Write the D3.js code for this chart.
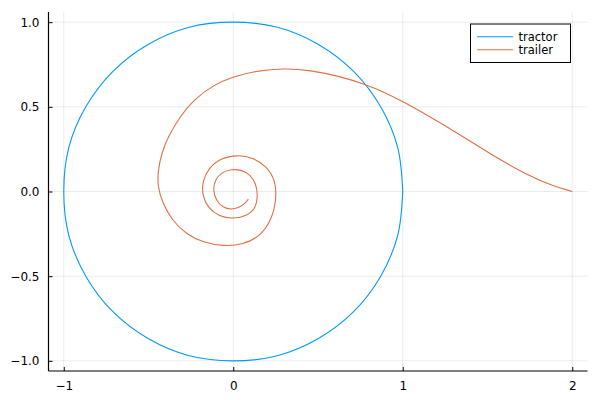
<!DOCTYPE html>
<html>
<head>
<meta charset="utf-8">
<script src="https://cdn.jsdelivr.net/npm/d3@7"></script>
<style>
  body { margin: 0; background: #fff; }
  text { font-family: "DejaVu Sans", sans-serif; fill: #000; }
</style>
</head>
<body>
<div id="chart"></div>
<script>
const width = 600
const height = 400
const margin = { top: 12, right: 12.5, bottom: 29, left: 48.5 }

// tractor path
const tractorX = [1.00, 0.97, 0.87, 0.71, 0.50, 0.26, 0.00, -0.26, -0.50, -0.71, -0.87, -0.97, -1.00,
  -0.97, -0.87, -0.71, -0.50, -0.26, 0.00, 0.26, 0.50, 0.71, 0.87, 0.97, 1.00]
const tractorY = [0.00, 0.26, 0.50, 0.71, 0.87, 0.97, 1.00, 0.97, 0.87, 0.71, 0.50, 0.26, 0.00,
  -0.26, -0.50, -0.71, -0.87, -0.97, -1.00, -0.97, -0.87, -0.71, -0.50, -0.26, 0.00]

// trailer path
const trailerX = [2.00, 1.89, 1.733, 1.575, 1.418, 1.26, 1.142, 1.004, 0.886, 0.778, 0.63, 0.453, 0.295,
  0.138, 0.0, -0.118, -0.236, -0.315, -0.384, -0.423, -0.445, -0.446, -0.417, -0.364, -0.275, -0.177, -0.059,
  0.059, 0.158, 0.226, 0.256, 0.248, 0.2, 0.12, 0.024, -0.075, -0.145, -0.182, -0.183, -0.15, -0.082,
  -0.002, 0.085, 0.134, 0.145, 0.135, 0.1, 0.05, -0.01, -0.07, -0.108, -0.12, -0.1, -0.06, -0.015,
  0.035, 0.07, 0.089]
const trailerY = [0.00, 0.03, 0.098, 0.187, 0.285, 0.383, 0.452, 0.53, 0.589, 0.633, 0.68, 0.717, 0.727,
  0.713, 0.678, 0.629, 0.54, 0.442, 0.324, 0.226, 0.118, 0.029, -0.068, -0.167, -0.255, -0.3, -0.324,
  -0.314, -0.265, -0.17, -0.04, 0.065, 0.145, 0.2, 0.217, 0.196, 0.138, 0.06, -0.02, -0.096, -0.148,
  -0.162, -0.143, -0.095, -0.025, 0.045, 0.1, 0.127, 0.132, 0.113, 0.068, 0.008, -0.056, -0.095, -0.107,
  -0.096, -0.07, -0.045]

const xTicks = [-1, 0, 1, 2]
const yTicks = [-1.0, -0.5, 0.0, 0.5, 1.0]
const seriesNames = ["tractor", "trailer"]
const seriesColors = ["#009af9", "#e26f46"]

const svg = d3.select("div#chart").append("svg").attr("width", width).attr("height", height)

const x = d3.scaleLinear().domain([-1.09, 2.09]).range([margin.left, width - margin.right])
const y = d3.scaleLinear().domain([-1.06, 1.06]).range([height - margin.bottom, margin.top])

const minus = s => s.replace("-", "\u2212")

// grid
const gridGroup = svg.append("g").attr("class", "gridGroup")
gridGroup.selectAll("line.gx").data(xTicks).enter().append("line")
    .attr("x1", d => x(d)).attr("x2", d => x(d))
    .attr("y1", margin.top).attr("y2", height - margin.bottom)
    .attr("stroke", "#000").attr("stroke-opacity", 0.08).attr("stroke-width", 1)
gridGroup.selectAll("line.gy").data(yTicks).enter().append("line")
    .attr("y1", d => y(d)).attr("y2", d => y(d))
    .attr("x1", margin.left).attr("x2", width - margin.right)
    .attr("stroke", "#000").attr("stroke-opacity", 0.08).attr("stroke-width", 1)

// axes
const xAxis = d3.axisBottom(x).tickValues(xTicks).tickSizeInner(-4).tickSizeOuter(0).tickPadding(10)
    .tickFormat(d => minus(d3.format("d")(d)))
const yAxis = d3.axisLeft(y).tickValues(yTicks).tickSizeInner(-4).tickSizeOuter(0).tickPadding(9)
    .tickFormat(d => minus(d3.format(".1f")(d)))

const xAxisGroup = svg.append("g").attr("transform", `translate(0, ${height - margin.bottom})`).call(xAxis)
const yAxisGroup = svg.append("g").attr("transform", `translate(${margin.left}, 0)`).call(yAxis)
xAxisGroup.select(".domain").attr("d", `M${margin.left},0H${width - margin.right}`)
yAxisGroup.select(".domain").attr("d", `M0,${height - margin.bottom}V${margin.top}`)
svg.selectAll(".domain").attr("stroke", "#000").attr("stroke-width", 1.2)
svg.selectAll(".tick line").attr("stroke", "#000").attr("stroke-width", 1)
svg.selectAll(".tick text").attr("font-family", "DejaVu Sans").attr("font-size", 12).attr("fill", "#000")

// lines: circle through its points, spiral smoothed over reading noise
const lineThrough = d3.line().x(d => x(d[0])).y(d => y(d[1])).curve(d3.curveCatmullRom)
const lineSmooth = d3.line().x(d => x(d[0])).y(d => y(d[1])).curve(d3.curveBasis)
const series = [
    d3.zip(tractorX, tractorY),
    d3.zip(trailerX, trailerY)
]
svg.append("g").selectAll("path").data(series).enter().append("path")
    .attr("d", (d, i) => i === 0 ? lineThrough(d) : lineSmooth(d))
    .attr("fill", "none")
    .attr("stroke", (d, i) => seriesColors[i])
    .attr("stroke-width", 1.1)

// legend
const legend = svg.append("g").attr("transform", "translate(470.5, 24)")
legend.append("rect").attr("width", 100).attr("height", 38.5)
    .attr("fill", "#fff").attr("stroke", "#000").attr("stroke-width", 1)
const item = legend.selectAll("g").data(seriesNames).enter().append("g")
    .attr("transform", (d, i) => `translate(0, ${12.7 + i * 13})`)
item.append("line").attr("x1", 6.5).attr("x2", 42.5)
    .attr("stroke", (d, i) => seriesColors[i]).attr("stroke-width", 1.1)
item.append("text").attr("x", 48).attr("dy", "0.35em")
    .attr("font-size", 11.5).text(d => d)
</script>
</body>
</html>
